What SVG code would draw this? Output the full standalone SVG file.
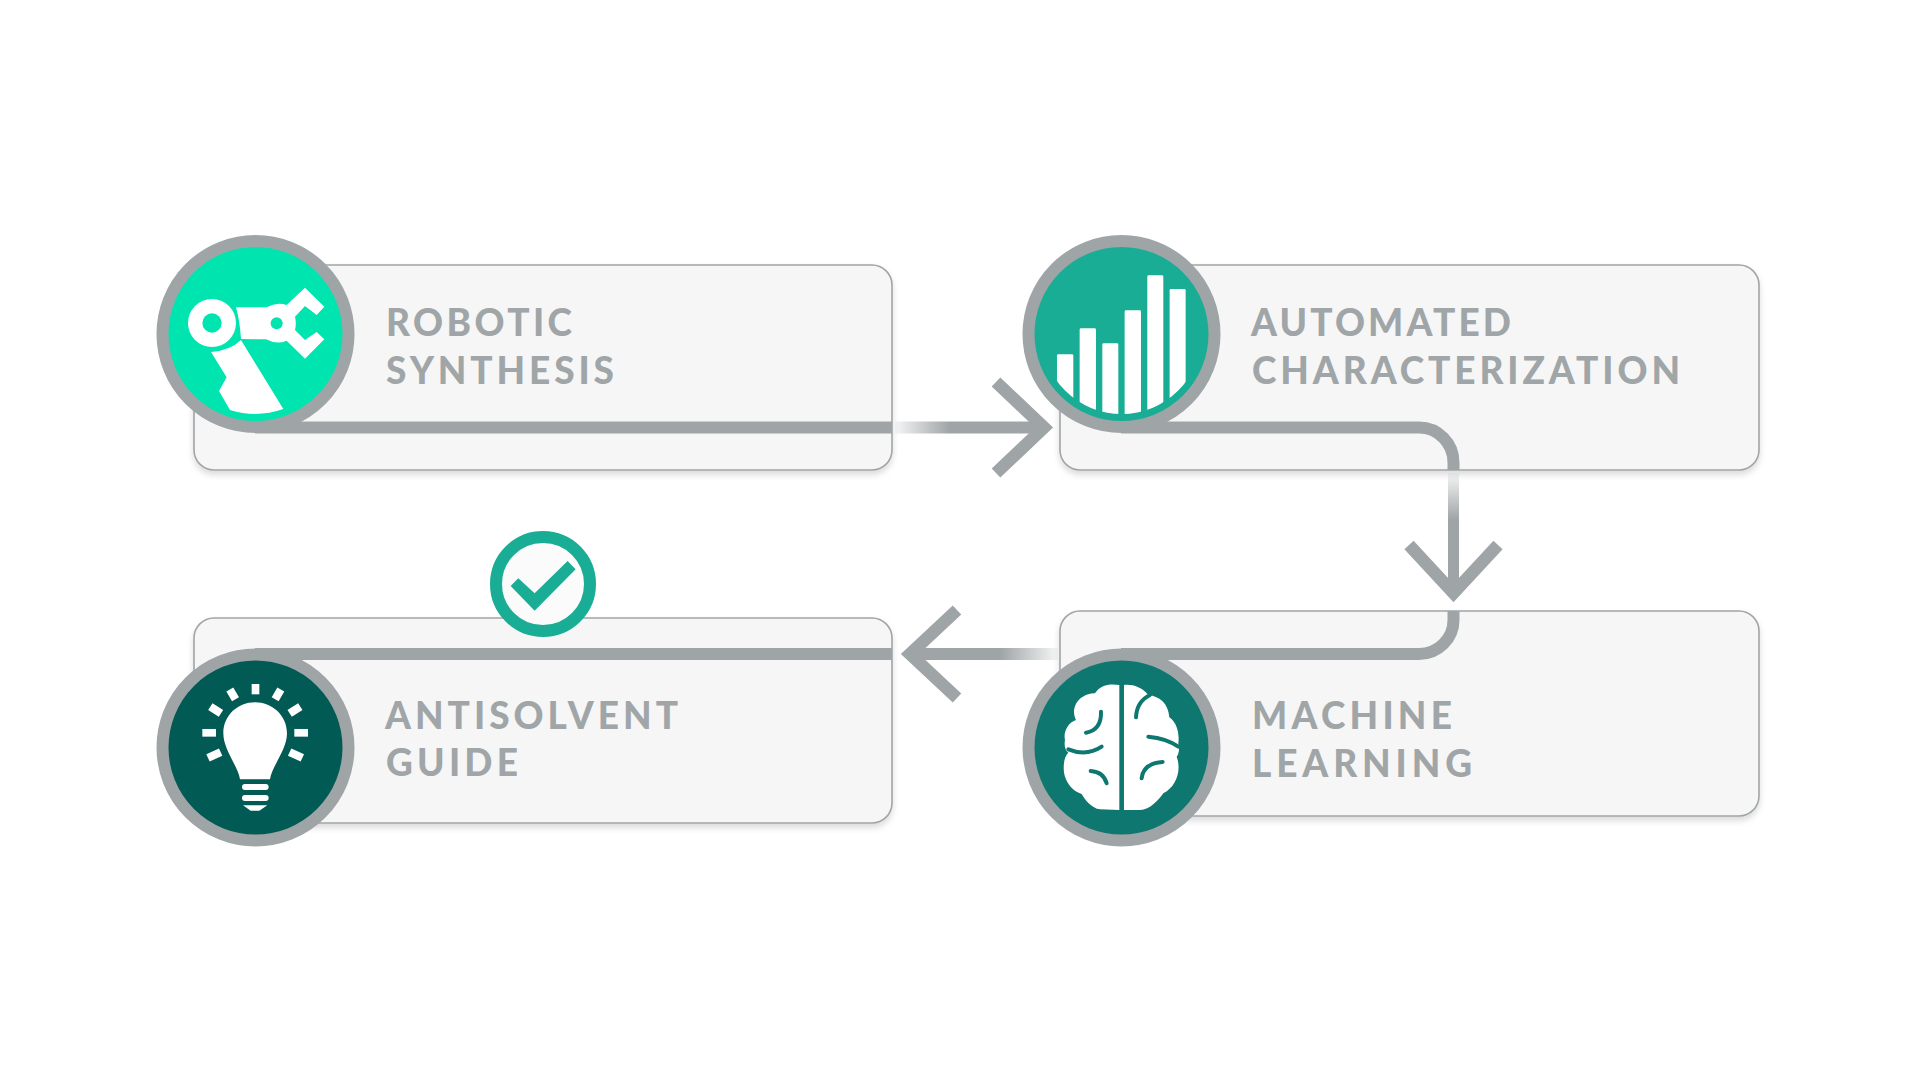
<svg xmlns="http://www.w3.org/2000/svg" width="1921" height="1081" viewBox="0 0 1921 1081">
<style>
.card{fill:#f6f6f7;stroke:#a0a5a7;stroke-width:1.6;filter:url(#sh)}
.ring{stroke:#9fa4a6;stroke-width:12}
.lbl{font-family:Lato,"Liberation Sans",sans-serif;font-weight:900;font-size:37px;fill:#a0a5a7}
.w{fill:#fff}
.ln{fill:none;stroke:#9fa4a6;stroke-width:12}
.ch{fill:none;stroke:#9fa4a6;stroke-width:12.500;stroke-linejoin:miter;stroke-miterlimit:6}
</style>
<defs>
<filter id="sh" x="-5%" y="-10%" width="110%" height="125%"><feDropShadow dx="0" dy="4" stdDeviation="3" flood-color="#000" flood-opacity=".14"/></filter>
<linearGradient id="gr" gradientUnits="userSpaceOnUse" x1="895" y1="0" x2="950" y2="0"><stop offset="0" stop-color="#9fa4a6" stop-opacity=".1"/><stop offset="1" stop-color="#9fa4a6"/></linearGradient>
<linearGradient id="gd" gradientUnits="userSpaceOnUse" x1="0" y1="473" x2="0" y2="520"><stop offset="0" stop-color="#9fa4a6" stop-opacity=".1"/><stop offset="1" stop-color="#9fa4a6"/></linearGradient>
<linearGradient id="gl" gradientUnits="userSpaceOnUse" x1="1058" y1="0" x2="1000" y2="0"><stop offset="0" stop-color="#9fa4a6" stop-opacity=".1"/><stop offset="1" stop-color="#9fa4a6"/></linearGradient>
<clipPath id="barclip"><circle cx="785" cy="342" r="240"/></clipPath>
</defs>
<rect width="1921" height="1081" fill="#fff"/>
<g id="card-robotic"><rect class="card" x="194" y="265" width="698" height="205" rx="20"/></g>
<g id="card-automated"><rect class="card" x="1060" y="265" width="699" height="205" rx="20"/></g>
<g id="card-machine"><rect class="card" x="1060" y="611" width="699" height="205" rx="20"/></g>
<g id="card-antisolvent"><rect class="card" x="194" y="618" width="698" height="205" rx="20"/></g>
<g id="connectors">
<path class="ln" d="M255 427.5H892"/>
<path d="M895 427.5H1043" fill="none" stroke="url(#gr)" stroke-width="12"/>
<path class="ch" d="M996 382L1044 427.5L996 473"/>
<path class="ln" d="M1121 427.5H1419A34.500 35 0 0 1 1453.500 462.500V470"/>
<path d="M1453.500 473V593" fill="none" stroke="url(#gd)" stroke-width="11"/>
<path class="ch" d="M1409 545L1453.500 593L1498 545"/>
<path class="ln" d="M1453.500 611V620A34.500 34 0 0 1 1419 654H1121"/>
<path d="M1058 654H910" fill="none" stroke="url(#gl)" stroke-width="12"/>
<path class="ch" d="M957 610L910 654L957 698"/>
<path class="ln" d="M892 654H255"/>
</g>
<g id="node-robotic">
<circle class="ring" cx="255.500" cy="334" r="93" fill="#00e5b0"/>
<g transform="translate(140 220) scale(.3333)">
<circle class="w" cx="216" cy="309" r="72"/><circle cx="216" cy="309" r="29" fill="#00e5b0"/>
<path class="w" d="M288 262L380 262Q410 245 440 255L495 203L553 260L530 285L495 258L465 290Q470 310 465 330L495 360L530 336L553 358L495 416L440 362Q410 375 378 358L303 357Q300 305 288 262Z"/>
<circle cx="410" cy="310" r="18" fill="#00e5b0"/>
<path class="w" d="M213 396Q270 392 303 360L430 567Q350 595 270 570L237 513L260 472Z"/>
</g>
<text class="lbl" x="386" y="335.500" textLength="186" lengthAdjust="spacing">ROBOTIC</text>
<text class="lbl" x="386" y="383.500" textLength="228" lengthAdjust="spacing">SYNTHESIS</text>
</g>
<g id="node-automated">
<circle class="ring" cx="1121.500" cy="334" r="93" fill="#1aad95"/>
<g transform="translate(860 220) scale(.3333)"><g clip-path="url(#barclip)">
<rect class="w" x="591" y="403" width="49" height="200" rx="4"/>
<rect class="w" x="659" y="325" width="49" height="280" rx="4"/>
<rect class="w" x="727" y="370" width="48" height="230" rx="4"/>
<rect class="w" x="794" y="271" width="49" height="330" rx="4"/>
<rect class="w" x="862" y="166" width="48" height="430" rx="4"/>
<rect class="w" x="929" y="207" width="48" height="390" rx="4"/>
</g></g>
<text class="lbl" x="1251" y="335.500" textLength="260" lengthAdjust="spacing">AUTOMATED</text>
<text class="lbl" x="1252" y="383.500" textLength="428" lengthAdjust="spacing">CHARACTERIZATION</text>
</g>
<g id="node-machine">
<circle class="ring" cx="1121.500" cy="747.500" r="93" fill="#0e7870"/>
<g transform="translate(1000 640) scale(.3333)">
<path class="w" d="M358 135C330 130 300 135 285 160C260 160 225 175 222 215C222 225 225 235 228 240C200 250 190 280 195 300C192 315 195 330 205 338C190 350 188 390 195 410C205 440 225 455 245 462C255 480 275 505 300 508L358 510Z"/>
<path class="w" d="M372 135C395 132 425 140 445 165C480 170 505 190 508 232C535 250 538 290 535 310C540 330 535 345 530 350C545 390 530 440 490 460C475 480 450 510 420 510L372 510Z"/>
<g fill="none" stroke="#0e7870" stroke-width="12" stroke-linecap="round">
<path d="M303 215Q305 270 258 278"/><path d="M205 328Q260 350 305 320"/><path d="M272 393Q310 395 320 430"/>
<path d="M408 232Q410 185 450 165"/><path d="M445 290Q500 295 535 320"/><path d="M425 415Q430 370 488 366"/>
</g></g>
<text class="lbl" x="1252" y="728.500" textLength="200" lengthAdjust="spacing">MACHINE</text>
<text class="lbl" x="1252" y="776.500" textLength="220" lengthAdjust="spacing">LEARNING</text>
</g>
<g id="node-antisolvent">
<circle class="ring" cx="255.500" cy="747.500" r="93" fill="#025a55"/>
<g transform="translate(140 510) scale(.3333)">
<path class="w" d="M300 808C295 770 250 720 250 670C250 615 295 577 345 577C395 577 441 615 441 670C441 720 395 770 390 808Z"/>
<rect class="w" x="306" y="822" width="80" height="18" rx="9"/><rect class="w" x="306" y="855" width="80" height="18" rx="9"/>
<path class="w" d="M309 886H382L358 902H332Z"/>
<rect class="w" x="335" y="522" width="23" height="31"/>
<rect class="w" x="187" y="657" width="41" height="23"/><rect class="w" x="463" y="657" width="41" height="23"/>
<rect class="w" x="-12" y="-17" width="24" height="34" transform="translate(278 553) rotate(-30)"/>
<rect class="w" x="-12" y="-17" width="24" height="34" transform="translate(414 553) rotate(30)"/>
<rect class="w" x="-12" y="-19" width="24" height="38" transform="translate(227 600) rotate(-57)"/>
<rect class="w" x="-12" y="-19" width="24" height="38" transform="translate(465 600) rotate(57)"/>
<rect class="w" x="-12" y="-21" width="24" height="42" transform="translate(223 735) rotate(-115)"/>
<rect class="w" x="-12" y="-21" width="24" height="42" transform="translate(468 735) rotate(115)"/>
</g>
<text class="lbl" x="385" y="728.500" textLength="293" lengthAdjust="spacing">ANTISOLVENT</text>
<text class="lbl" x="386" y="776" textLength="132" lengthAdjust="spacing">GUIDE</text>
</g>
<g id="node-check">
<circle cx="543" cy="584" r="47" fill="#fbfbfb" stroke="#1aad95" stroke-width="12"/>
<path fill="#1aad95" transform="translate(140 510) scale(.3333)" d="M1112 228L1135 205L1184 250L1283 153L1307 178L1184 302Z"/>
</g>
</svg>
